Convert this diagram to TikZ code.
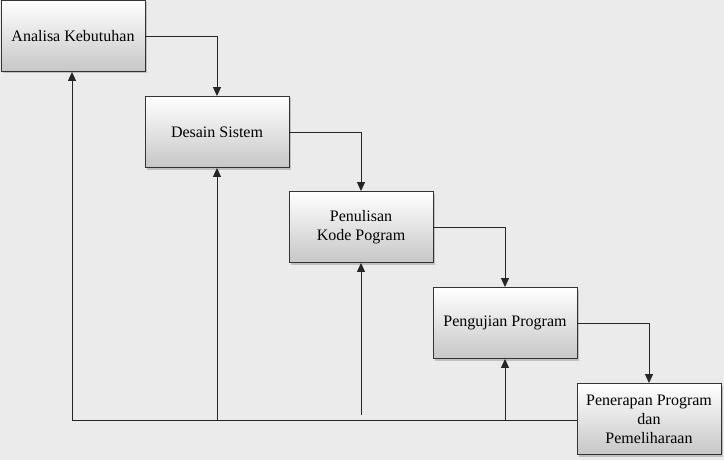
\documentclass[tikz,border=0pt]{standalone}
\usepackage{fontspec}
\setmainfont{Liberation Serif}
\usetikzlibrary{arrows.meta,shadows}
\begin{document}
\begin{tikzpicture}[x=1pt,y=-1pt,
 box/.style={draw=black!80,line width=0.9pt,top color=white,bottom color=black!22,minimum width=144pt,minimum height=71pt,align=center,font=\fontsize{16}{19}\selectfont,drop shadow={shadow xshift=2pt,shadow yshift=-2pt,opacity=0.4}},
 ln/.style={draw=black!85,line width=0.9pt},
 ar/.style={ln,-{Triangle[length=9pt,width=8pt]}}]
\fill[black!8] (0,0) rectangle (724,460);
\useasboundingbox (0,0) rectangle (724,460);
\node[box] (a) at (73,36) {Analisa Kebutuhan};
\node[box] (b) at (217,132) {Desain Sistem};
\node[box] (c) at (361,227) {Penulisan\\Kode Pogram};
\node[box] (d) at (505,323) {Pengujian Program};
\node[box] (e) at (649,419) {Penerapan Program\\dan\\Pemeliharaan};
\coordinate (base) at (72,420);
\coordinate (c0) at (361,415);
\draw[ar] (a.east) -| (b.north);
\draw[ar] (b.east) -| (c.north);
\draw[ar] (c.east) -| (d.north);
\draw[ar] (d.east) -| (e.north);
\draw[ar] (e.west |- base) -- (base) -- (a.south -| base);
\draw[ar] (b.south |- base) -- (b.south);
\draw[ar] (c0) -- (c.south);
\draw[ar] (d.south |- base) -- (d.south);
\end{tikzpicture}
\end{document}
